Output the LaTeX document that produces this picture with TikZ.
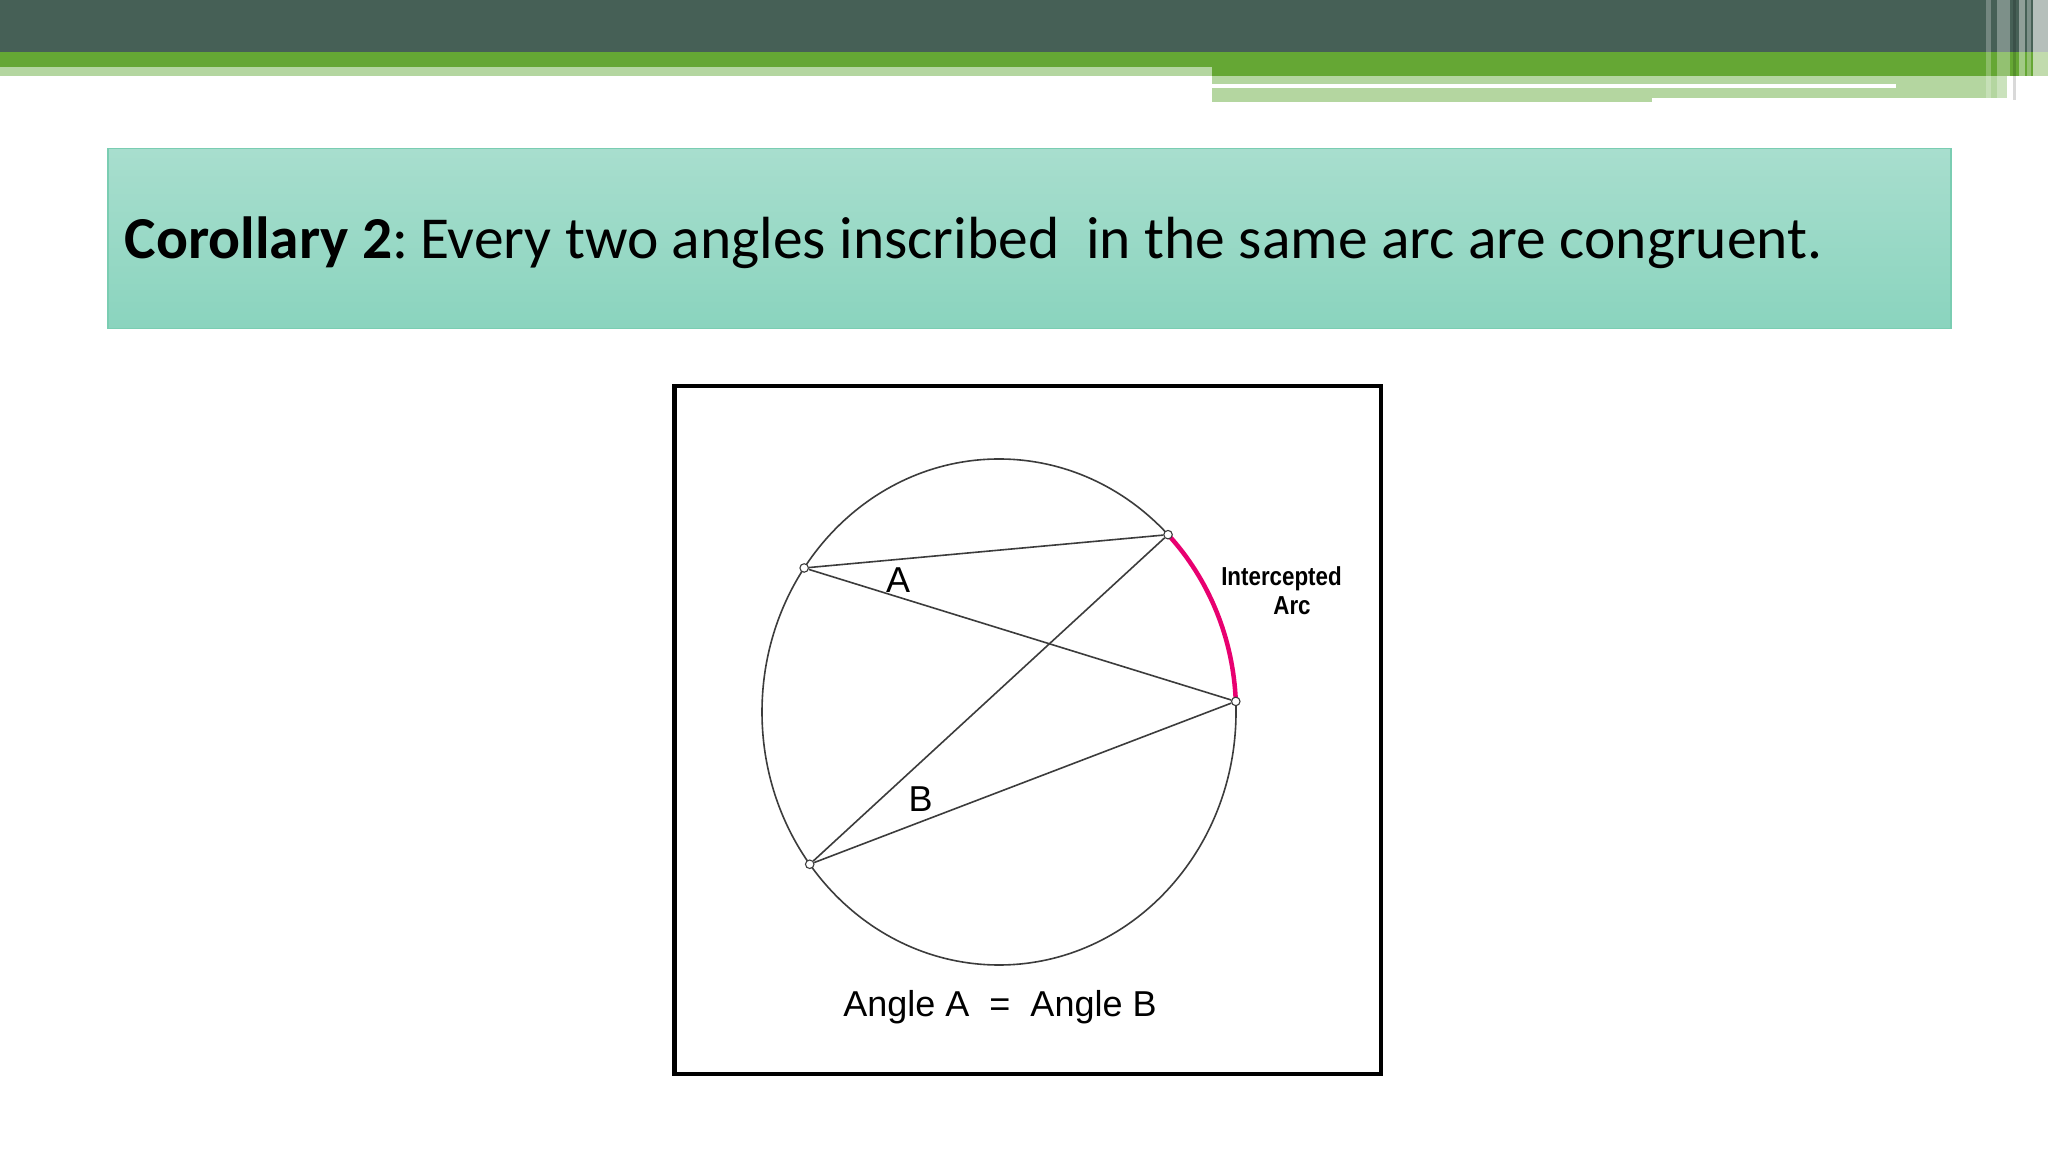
\documentclass[tikz,border=0pt]{standalone}
\usepackage{fontspec}
\usepackage{graphicx}
\setmainfont{Liberation Sans}
\newfontfamily\titlefont{Carlito}
\usetikzlibrary{calc}
\definecolor{bardark}{RGB}{70,96,86}
\definecolor{bargreen}{RGB}{101,167,52}
\definecolor{barlight}{RGB}{180,214,160}
\definecolor{boxtop}{RGB}{168,222,206}
\definecolor{boxbot}{RGB}{138,212,190}
\definecolor{boxedge}{RGB}{122,205,178}
\definecolor{arcpink}{RGB}{232,0,112}
\definecolor{geoline}{RGB}{60,60,60}
\tikzset{
  titlebox/.style={draw=boxedge, line width=1.5pt, top color=boxtop, bottom color=boxbot,
    minimum width=1843pt, minimum height=180pt, inner sep=0pt, anchor=north west},
  framebox/.style={draw=black, line width=4.5pt, minimum width=706.5pt, minimum height=687.5pt, inner sep=0pt},
  geo/.style={draw=geoline, line width=1.6pt},
  arcline/.style={draw=arcpink, line width=4.5pt},
  vtx/.style={circle, draw=geoline, fill=white, line width=1.1pt, inner sep=0pt, minimum size=8.5pt},
  lbl/.style={anchor=base, font=\fontsize{36}{40}\selectfont},
  smalllbl/.style={anchor=base, font=\bfseries\fontsize{26}{28}\selectfont}
}
\begin{document}
\begin{tikzpicture}[x=1pt,y=1pt]
\useasboundingbox (0,0) rectangle (2048,1152);
\fill[white] (0,0) rectangle (2048,1152);
% top bars
\fill[bardark] (0,1152) rectangle (2048,1100);
\fill[bargreen] (0,1100) rectangle (1212,1085);
\fill[barlight] (0,1085) rectangle (1212,1076);
\fill[bargreen] (1212,1100) rectangle (2048,1076);
\fill[barlight] (1212,1076) rectangle (2007,1068);
\fill[barlight] (1896,1068) rectangle (2007,1064);
\fill[barlight] (1212,1064) rectangle (2007,1054);
\fill[barlight] (1212,1054) rectangle (1652,1050);
% right stripes
\fill[white,opacity=0.25] (1986,1152) rectangle (1991,1052);
\fill[white,opacity=0.3] (1997,1152) rectangle (2010,1052);
\fill[black,opacity=0.15] (2013,1152) rectangle (2016,1052);
\fill[white,opacity=0.4] (2019,1152) rectangle (2025,1052);
\fill[white,opacity=0.3] (2027,1152) rectangle (2031,1052);
\fill[white,opacity=0.6] (2033,1152) rectangle (2048,1048);
% title
\node[titlebox] (titlebox) at (107,1004) {};
\node[anchor=base west, font=\titlefont\fontsize{59.5}{72}\selectfont] (titletext) at (121,893)
  {\textbf{Corollary 2}:\hspace{0.2em}Every two angles inscribed\ \ in the same arc are congruent.};
% diagram frame
\node[framebox] (frame) at (1027.5,422) {};
% circle geometry
\coordinate (C) at (999,440);
\draw[geo] (C) ellipse [x radius=237pt, y radius=253pt];
\coordinate (P1) at ($(C)+(44.5:237 and 253)$);
\coordinate (P2) at ($(C)+(2.4:237 and 253)$);
\coordinate (Q1) at ($(C)+(145.3:237 and 253)$);
\coordinate (Q2) at ($(C)+(217:237 and 253)$);
\draw[arcline] (P1) arc[start angle=44.5, end angle=2.4, x radius=237pt, y radius=253pt];
\node[vtx] (p1) at (P1) {};
\node[vtx] (p2) at (P2) {};
\node[vtx] (q1) at (Q1) {};
\node[vtx] (q2) at (Q2) {};
\draw[geo] (q1) -- (p1);
\draw[geo] (q1) -- (p2);
\draw[geo] (q2) -- (p1);
\draw[geo] (q2) -- (p2);
% labels
\node[lbl] (la) at (898,559) {A};
\node[lbl] (lb) at (920.5,340) {B};
\node[lbl] (eq) at (1000,136) {Angle A\ \ =\ \ Angle B};
\node[smalllbl] (ic) at (1281.5,566) {\scalebox{0.86}[1]{Intercepted}};
\node[smalllbl] (arc) at (1292,537) {\scalebox{0.86}[1]{Arc}};
\end{tikzpicture}
\end{document}
